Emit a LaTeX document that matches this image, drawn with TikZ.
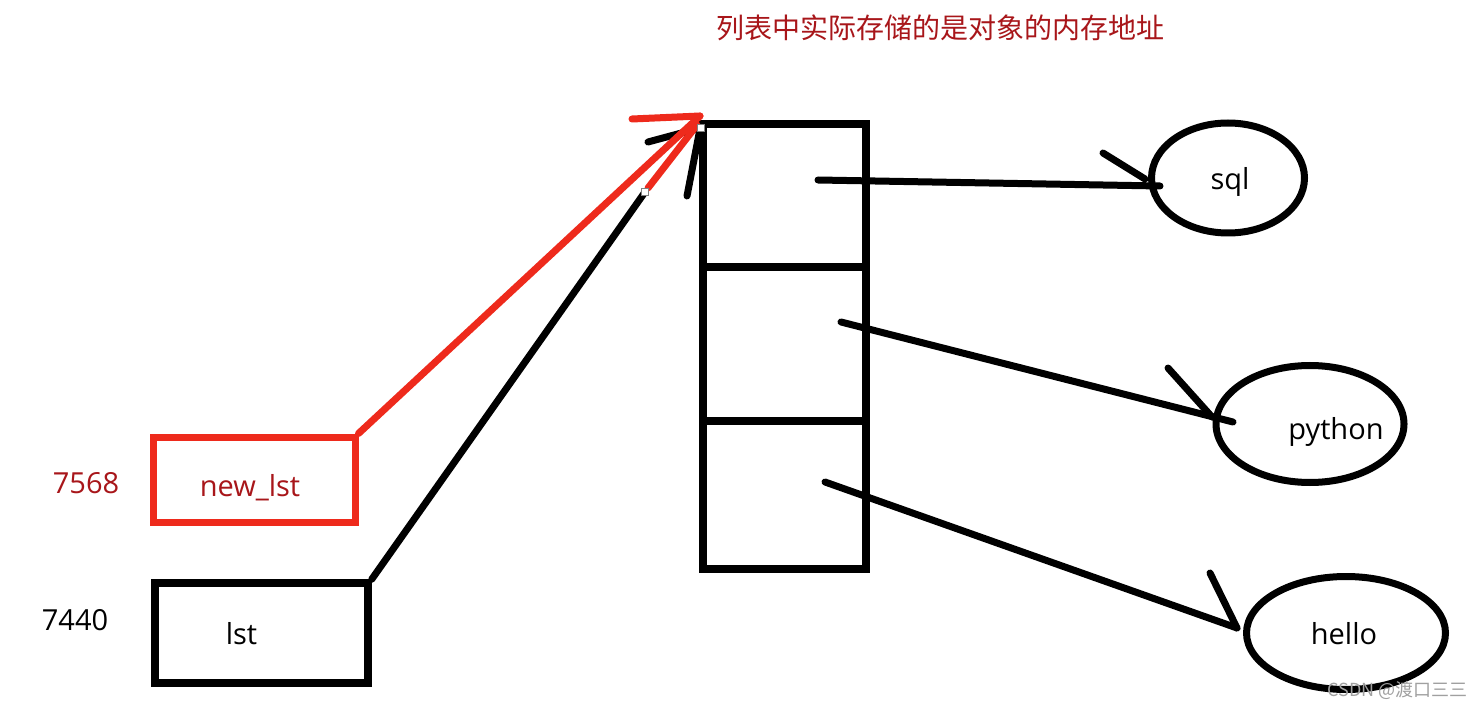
\documentclass[tikz,border=0pt]{standalone}
\usepackage{fontspec}
\setmainfont{Open Sans}
\newfontfamily\cjk{Noto Sans CJK SC}
\usetikzlibrary{shapes.geometric}
\definecolor{darkred}{HTML}{A8161A}
\definecolor{brightred}{HTML}{EE2A1C}
\definecolor{wmgray}{HTML}{A0A0A0}
\newcommand{\shiftedtext}[3]{\raisebox{#2}[0pt][0pt]{\makebox[0pt]{\hspace*{#1}#3}}}
\tikzset{
  lbl/.style={font=\fontsize{29}{34}\selectfont, inner sep=0pt},
  blackbox/.style={draw=black, line width=7.5pt, minimum width=#1, inner sep=0pt},
  redbox/.style={draw=brightred, line width=7pt, inner sep=0pt, text=darkred},
  cellbox/.style={draw=black, line width=7.5pt, minimum width=163pt, inner sep=0pt},
  obj/.style={ellipse, draw=black, line width=7pt, inner sep=0pt, font=\fontsize{29}{34}\selectfont},
  conn/.style={draw=black, line width=7pt, line cap=round},
  redconn/.style={draw=brightred, line width=7pt, line cap=round},
  handle/.style={draw=gray, fill=white, line width=0.8pt, minimum size=7pt, inner sep=0pt},
}
\begin{document}
\begin{tikzpicture}[x=1pt,y=-1pt]
\useasboundingbox[fill=white] (0,0) rectangle (1483,708);

% title
\node[font=\cjk\fontsize{28}{33}\selectfont, text=darkred, inner sep=0pt] (title) at (940,28) {列表中实际存储的是对象的内存地址};

% variable boxes
\node[redbox, minimum width=202pt, minimum height=85pt, lbl, text=darkred] (newlst) at (254,479.5) {\shiftedtext{-8pt}{-17pt}{new\_lst}};
\node[blackbox=213pt, minimum height=100pt, lbl] (lst) at (261.5,633) {\shiftedtext{-40pt}{-11pt}{lst}};
\node[lbl, text=darkred] (a1) at (86,483) {7568};
\node[lbl] (a2) at (75,620) {7440};

% list cells
\node[cellbox, minimum height=143pt] (cell1) at (784.5,195.5) {};
\node[cellbox, minimum height=154pt] (cell2) at (784.5,344) {};
\node[cellbox, minimum height=148pt] (cell3) at (784.5,495) {};

% objects
\node[obj, minimum width=153pt, minimum height=110pt] (sql) at (1228,178) {\shiftedtext{4pt}{-12pt}{sql}};
\node[obj, minimum width=188pt, minimum height=117pt] (python) at (1310,424) {\shiftedtext{52pt}{-16pt}{python}};
\node[obj, minimum width=199pt, minimum height=113pt] (hello) at (1346,633) {\shiftedtext{-4pt}{-11pt}{hello}};

% connector coordinates
\coordinate (c1) at (818,180);
\coordinate (c2) at (841,322);
\coordinate (c3) at (825,482);
\coordinate (e1) at (1160,186);
\coordinate (e2) at (1233,422);
\coordinate (e3) at (1237,628);
\coordinate (b1s) at (1103,153);
\coordinate (b1e) at (1145,179);
\coordinate (b2s) at (1168,368);
\coordinate (b2e) at (1212,417);
\coordinate (b3s) at (1210,573);
\coordinate (b3e) at (1237,628);

\draw[conn] (c1) -- (e1);
\draw[conn] (b1s) -- (b1e);
\draw[conn] (c2) -- (e2);
\draw[conn] (b2s) -- (b2e);
\draw[conn] (c3) -- (e3);
\draw[conn] (b3s) -- (b3e);

% references to the list
\coordinate (k1) at (645,192);
\coordinate (kb1) at (648,142);
\coordinate (kt1) at (700,128);
\coordinate (kb2) at (687,196);
\coordinate (kt2) at (699,134);
\draw[conn] (lst.north east) -- (k1);
\draw[conn] (kb1) -- (kt1);
\draw[conn] (kb2) -- (kt2);

\coordinate (r1) at (700,116);
\coordinate (rb1) at (632,119);
\coordinate (rb2) at (648,188);
\coordinate (rt2) at (697,125);
\draw[redconn] (newlst.north east) -- (r1);
\draw[redconn] (rb1) -- (r1);
\draw[redconn] (rb2) -- (rt2);

\node[handle] (h1) at (701,128) {};
\node[handle] (h2) at (645,192) {};

% watermark
\node[font=\cjk\fontsize{18}{21}\selectfont, text=wmgray, inner sep=0pt, anchor=east] (wm) at (1468,690) {CSDN @渡口三三};
\end{tikzpicture}
\end{document}
